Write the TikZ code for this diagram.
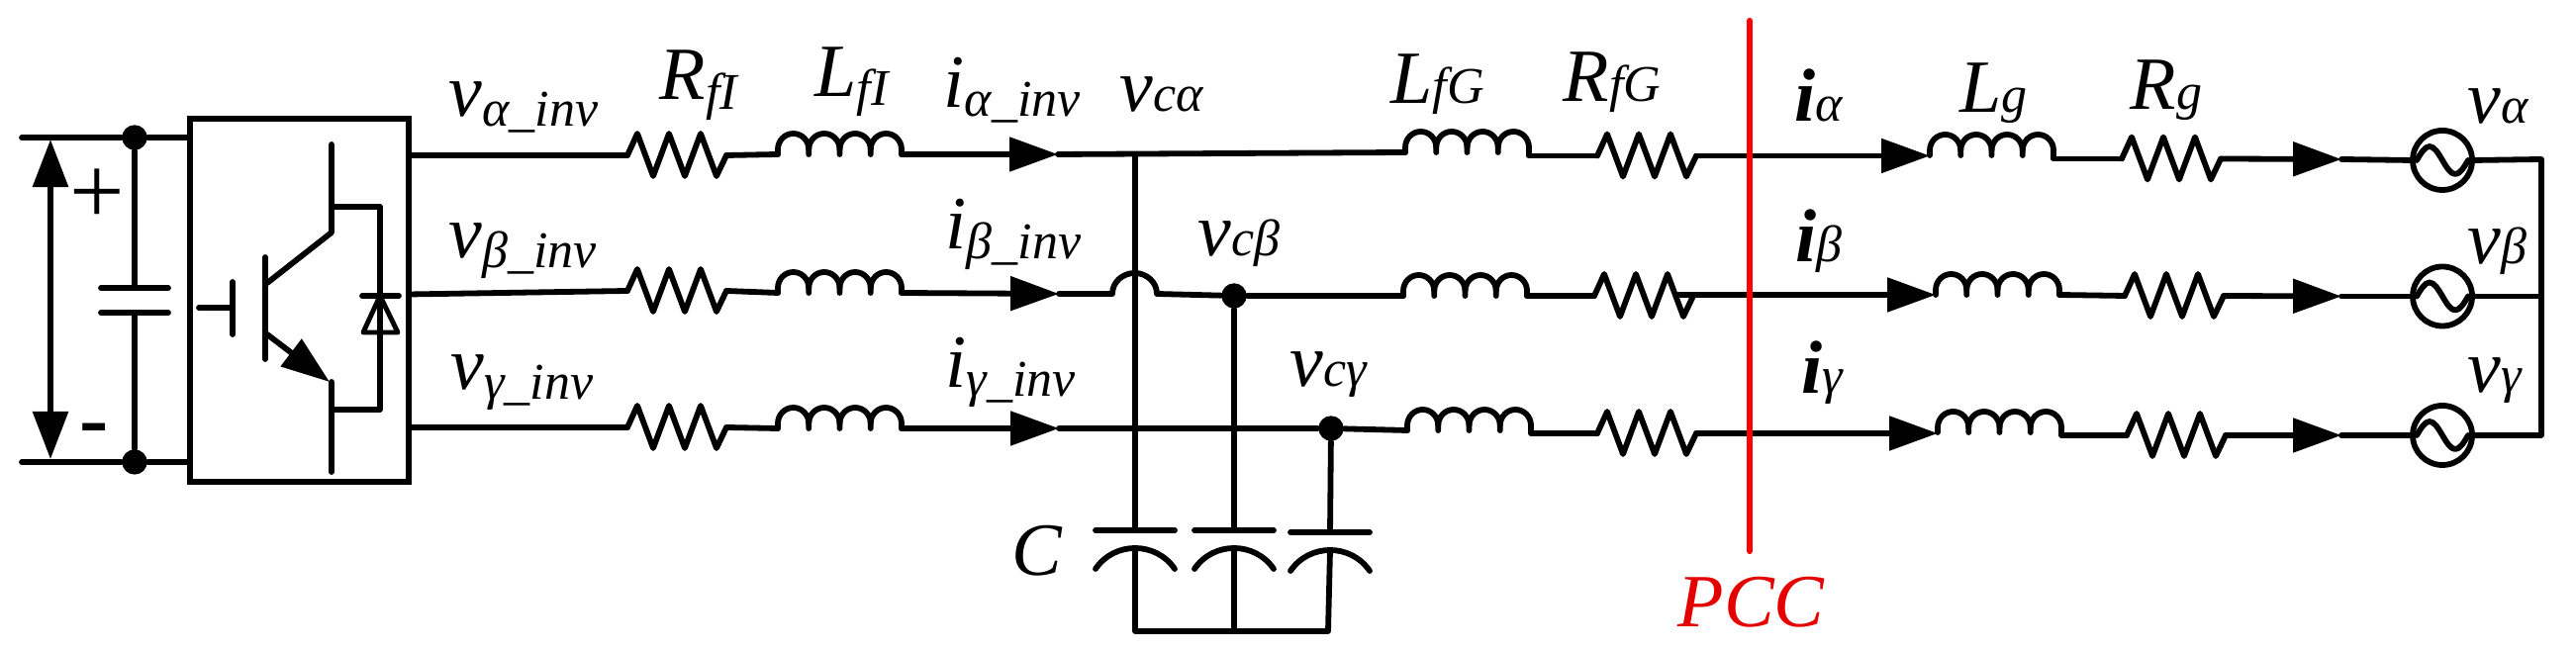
\documentclass[tikz,border=0pt]{standalone}
\usepackage{fontspec}
\setmainfont{Liberation Serif}
\usetikzlibrary{arrows.meta}

\newcommand{\sbs}[2][0pt]{\raisebox{-#1}{\fontsize{14.8}{16}\selectfont #2}}

\tikzset{
  wire/.style={line width=1.65pt,line cap=round,line join=round},
  flow/.style={wire,-{Triangle[length=13.9pt,width=9.6pt]}},
  dot/.style={circle,fill,inner sep=0pt,minimum size=7.2pt},
  lbl/.style={inner sep=0pt,anchor=base west,font=\fontsize{21.6}{24}\selectfont\itshape},
  pics/resistor/.style={code={
    \draw[wire] (0,0) coordinate (-in) -- (10,-22) -- (26,21) -- (42,-22)
       -- (58,21) -- (74,-22) -- (90,21) -- (100,0) coordinate (-out);
  }},
  pics/inductor/.style={code={
    \coordinate (-in) at (0,0);
    \foreach \k in {0,...,3}
      \draw[wire] ({\k*31.25},0) -- ++(0,-5)
         arc[start angle=180,end angle=360,x radius=15.625,y radius=16];
    \draw[wire] (125,-5) -- (125,0) coordinate (-out);
  }},
  pics/acsource/.style={code={
    \draw[wire] (0,0) circle[radius=30];
    \draw[wire] (-26,0) sin (-13,-14) cos (0,0) sin (13,14) cos (26,0);
    \coordinate (-in) at (-30,0);
    \coordinate (-out) at (30,0);
  }},
  pics/filtercap/.style={code={
    \draw[wire] (-40,0) -- (40,0);
    \draw[wire] (-40,39) .. controls (-21,11) and (21,11) .. (40,39);
    \coordinate (-top) at (0,0);
    \coordinate (-low) at (0,18);
  }}
}

\begin{document}
\begin{tikzpicture}[x=0.01cm,y=-0.01cm]
  \useasboundingbox (0,0) rectangle (2603,659);

  % dc side
  \coordinate (dcta) at (22,139);
  \coordinate (dcba) at (22,467);
  \node[dot] (dct) at (136,139) {};
  \node[dot] (dcb) at (136,467) {};
  \node[draw,line width=1.75pt,minimum width=2.21cm,minimum height=3.665cm,
        inner sep=0pt,outer sep=0pt,anchor=north west] (vsi) at (192,120) {};
  \draw[wire] (dcta) -- (dct) -- (dct -| vsi.west);
  \draw[wire] (dcba) -- (dcb) -- (dcb -| vsi.west);
  \draw[wire,{Triangle[length=13.7pt,width=10pt]}-{Triangle[length=13.7pt,width=10pt]}] (51,141) -- (51,464);
  \node[inner sep=0pt,font=\fontsize{28}{28}\selectfont] (plus) at (98,199) {+};
  \node[inner sep=0pt,font=\fontsize{25}{25}\selectfont\bfseries] (minus) at (95,440) {-};
  \coordinate (cdc1) at (136,291);
  \coordinate (cdc2) at (136,316);
  \draw[wire] (dct) -- (cdc1);
  \draw[wire] (102,291) -- (170,291);
  \draw[wire] (102,316) -- (170,316);
  \draw[wire] (cdc2) -- (dcb);

  % switch
  \draw[wire] (201,311) -- (235,311);
  \draw[wire] (235,285) -- (235,338);
  \draw[wire] (268,260) -- (268,363);
  \draw[wire] (335,146) -- (335,235) -- (270,286);
  \draw[flow] (270,338) -- (333,386);
  \draw[wire] (335,386) -- (335,477);
  \draw[wire] (335,209) -- (384,209) -- (384,414) -- (335,414);
  \draw[wire] (366,299) -- (403,299);
  \draw[wire,line width=1.4pt] (384,299) -- (367,336) -- (402,336) -- cycle;

  % inverter filter
  \pic (r1a) at (634,157) {resistor};
  \pic (l1a) at (786,156) {inductor};
  \pic (r1b) at (634,294) {resistor};
  \pic (l1b) at (786,296) {inductor};
  \pic (r1c) at (634,432) {resistor};
  \pic (l1c) at (786,433) {inductor};

  \coordinate (va) at (413,157);
  \coordinate (vb) at (413,297.5);
  \coordinate (vc) at (413,432);
  \coordinate (t1a) at (1069,156);
  \coordinate (t1b) at (1070,297);
  \coordinate (t1c) at (1070,433);
  \draw[wire] (va) -- (r1a-in);
  \draw[wire] (vb) -- (r1b-in);
  \draw[wire] (vc) -- (r1c-in);
  \draw[wire] (r1a-out) -- (l1a-in);
  \draw[wire] (r1b-out) -- (l1b-in);
  \draw[wire] (r1c-out) -- (l1c-in);
  \draw[flow] (l1a-out) -- (t1a);
  \draw[flow] (l1b-out) -- (t1b);
  \draw[flow] (l1c-out) -- (t1c);

  % grid filter
  \node[dot] (nb) at (1247,299) {};
  \node[dot] (nc) at (1345,433) {};
  \pic (l2a) at (1420,154) {inductor};
  \pic (r2a) at (1614,157.5) {resistor};
  \pic (l2b) at (1418,299) {inductor};
  \pic (r2b) at (1611,299) {resistor};
  \pic (l2c) at (1422,435) {inductor};
  \pic (r2c) at (1614,438) {resistor};

  \draw[wire] (t1a) -- (l2a-in);
  \draw[wire] (t1b) -- (1124,297) arc[start angle=180,end angle=360,x radius=22.5,y radius=21]
     coordinate (hop) -- (nb) -- (l2b-in);
  \draw[wire] (t1c) -- (nc) -- (l2c-in);
  \draw[wire] (l2a-out) |- (r2a-in);
  \draw[wire] (l2b-out) -- (r2b-in);
  \draw[wire] (l2c-out) |- (r2c-in);

  % capacitors
  \pic (ca) at (1147,536) {filtercap};
  \pic (cb) at (1247,536) {filtercap};
  \pic (cc) at (1344,538) {filtercap};
  \coordinate (rail) at (1147,638);
  \coordinate (railr) at (1342,638);
  \draw[wire] (1147,156) -- (ca-top);
  \draw[wire] (nb) -- (cb-top);
  \draw[wire] (nc) -- (cc-top);
  \draw[wire] (ca-low) -- (rail) -- (railr) -- (cc-low);
  \draw[wire] (cb-low) -- (cb-low |- rail);

  % grid side
  \pic (l3a) at (1950,157) {inductor};
  \pic (r3a) at (2144,160.5) {resistor};
  \pic (l3b) at (1956,298) {inductor};
  \pic (r3b) at (2147,299) {resistor};
  \pic (l3c) at (1958,437) {inductor};
  \pic (r3c) at (2149,440) {resistor};
  \pic (sa) at (2468,162) {acsource};
  \pic (sb) at (2468,299.5) {acsource};
  \pic (sc) at (2468,440) {acsource};

  \coordinate (t2a) at (1950,157.5);
  \coordinate (t2b) at (1956,298);
  \coordinate (t2c) at (1958,438);
  \coordinate (t3a) at (2366,161);
  \coordinate (t3b) at (2366,299.5);
  \coordinate (t3c) at (2366,440);
  \draw[flow] (r2a-out) -- (t2a);
  \draw[wire] (r2b-out) ++(-15,-1) coordinate (r2bs);
  \draw[flow] (r2bs) -- (t2b);
  \draw[flow] (r2c-out) -- (t2c);
  \draw[wire] (l3a-out) |- (r3a-in);
  \draw[wire] (l3b-out) -- (r3b-in);
  \draw[wire] (l3c-out) |- (r3c-in);
  \draw[flow] (r3a-out) -- (t3a);
  \draw[flow] (r3b-out) -- (t3b);
  \draw[flow] (r3c-out) -- (t3c);
  \draw[wire] (t3a) -- (sa-in);
  \draw[wire] (t3b) -- (sb-in);
  \draw[wire] (t3c) -- (sc-in);
  \coordinate (bus) at (2568,161);
  \draw[wire] (sa-out) -- (bus) |- (sc-out);
  \draw[wire] (sb-out) -- (sb-out -| bus);

  % point of common coupling
  \draw[wire,line width=1.75pt,red] (1768,21) -- (1768,557);
  \node[lbl,text=red!90!black] (pcc) at (1695,634) {PCC};

  % labels
  \node[lbl] (lva) at (453,118) {v\sbs[2.8pt]{α\_inv}};
  \node[lbl] (lvb) at (453,261) {v\sbs[2.8pt]{β\_inv}};
  \node[lbl] (lvc) at (455,394) {v\sbs[2.8pt]{γ\_inv}};
  \node[lbl] (lr1) at (666,101) {R\sbs[2.6pt]{fI}};
  \node[lbl] (ll1) at (823,97.5) {L\sbs[2.6pt]{fI}};
  \node[lbl] (lia) at (953,108.5) {i\sbs[2.6pt]{α\_inv}};
  \node[lbl] (lib) at (955,252) {i\sbs[2.8pt]{β\_inv}};
  \node[lbl] (lic) at (955,391.5) {i\sbs[2.6pt]{γ\_inv}};
  \node[lbl] (lca) at (1131,113) {v\sbs{cα}};
  \node[lbl] (lcb) at (1210,258.5) {v\sbs{cβ}};
  \node[lbl] (lcc) at (1303,391) {v\sbs{cγ}};
  \node[lbl] (lcap) at (1022,582) {C};
  \node[lbl] (ll2) at (1405,105) {L\sbs{fG}};
  \node[lbl] (lr2) at (1579,103) {R\sbs{fG}};
  \node[lbl] (lga) at (1813,122.5) {\bfseries i\mdseries\sbs{α}};
  \node[lbl] (lgb) at (1814,265) {\bfseries i\mdseries\sbs{β}};
  \node[lbl] (lgc) at (1820,398) {\bfseries i\mdseries\sbs{γ}};
  \node[lbl] (ll3) at (1980,113.5) {L\sbs{g}};
  \node[lbl] (lr3) at (2152,111) {R\sbs{g}};
  \node[lbl] (lsa) at (2493,125) {v\sbs{α}};
  \node[lbl] (lsb) at (2493,267) {v\sbs{β}};
  \node[lbl] (lsc) at (2493,397) {v\sbs{γ}};
\end{tikzpicture}
\end{document}
